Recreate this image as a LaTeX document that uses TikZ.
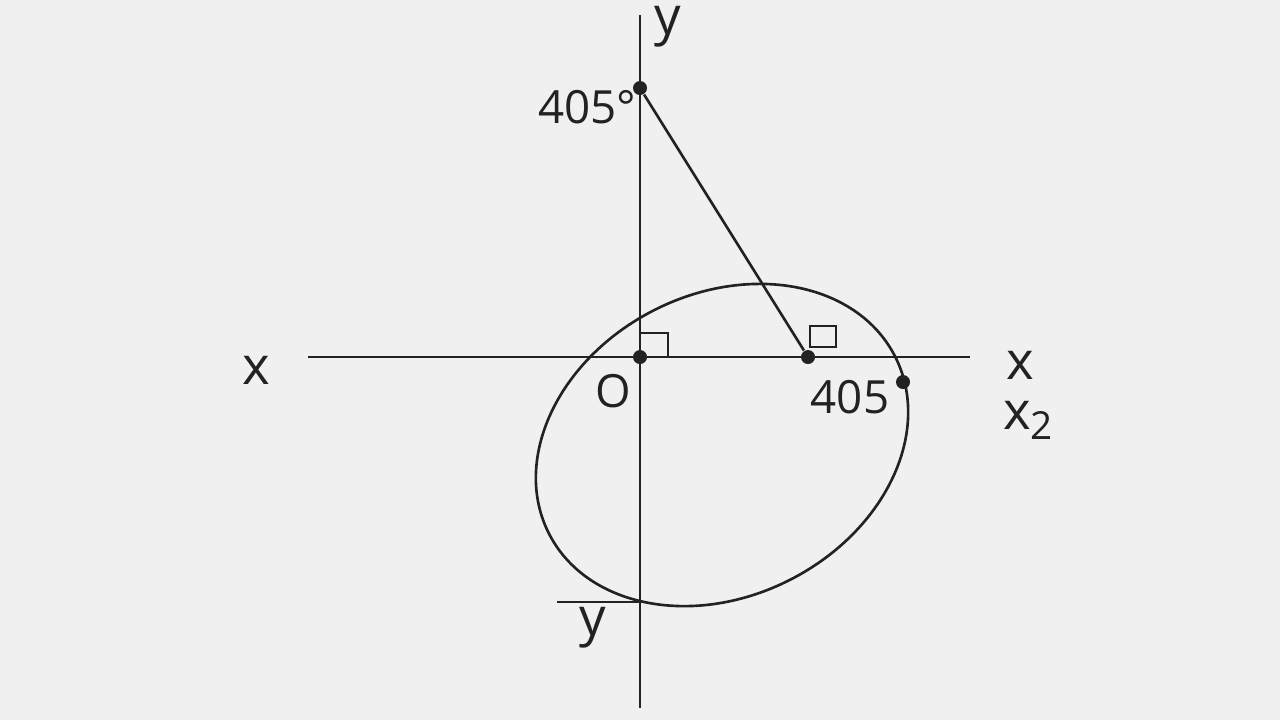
\documentclass[tikz,border=0pt]{standalone}
\usepackage{fontspec}
\setmainfont{Open Sans}
\begin{document}
\begin{tikzpicture}[x=0.01cm,y=-0.01cm,
  ln/.style={line width=0.75pt,draw=ink},
  dotn/.style={circle,fill=ink,inner sep=0pt,minimum size=0.14cm},
  lbl/.style={text=ink,inner sep=0pt,font=\fontsize{15}{17}\selectfont},
  num/.style={text=ink,inner sep=0pt,font=\fontsize{13}{15}\selectfont}]
\definecolor{ink}{HTML}{222222}
\definecolor{bg}{HTML}{F0F0F0}
\fill[bg] (0,0) rectangle (1280,720);
\useasboundingbox (0,0) rectangle (1280,720);
% axes
\coordinate (ytop) at (640,15);
\coordinate (ybot) at (640,708);
\coordinate (xl) at (308,357);
\coordinate (xr) at (970,357);
\draw[ln] (ytop) -- (ybot);
\draw[ln] (xl) -- (xr);
% ellipse
\draw[ln] (722,445) ellipse[x radius=1.943cm, y radius=1.509cm, rotate=27.3];
% points
\node[dotn] (O) at (640,357) {};
\node[dotn] (A) at (640,88) {};
\node[dotn] (B) at (808,357) {};
\node[dotn] (C) at (903,382) {};
\draw[ln] (A) -- (B);
% right angle marks
\draw[ln] (640,333) -- (668,333) -- (668,357);
\draw[ln] (810,326) rectangle (836,347);
% bottom tick
\coordinate (tk) at (557,602);
\coordinate (tk2) at (640,602);
\draw[ln] (tk) -- (tk2);
% labels
\node[lbl] (ly) at (668,27) {y};
\node[lbl] (lxl) at (256,370) {x};
\node[lbl] (lxr) at (1020,365) {x};
\node[lbl] (lx2) at (1028,420) {x\raisebox{-0.35ex}{\fontsize{11}{13}\selectfont 2}};
\node[lbl] (lyb) at (593,628) {y};
\node[num] (lO) at (613,391) {O};
\node[num,anchor=east] (l405a) at (637,107) {405°};
\node[num] (l405b) at (850,397) {405};
\end{tikzpicture}
\end{document}
